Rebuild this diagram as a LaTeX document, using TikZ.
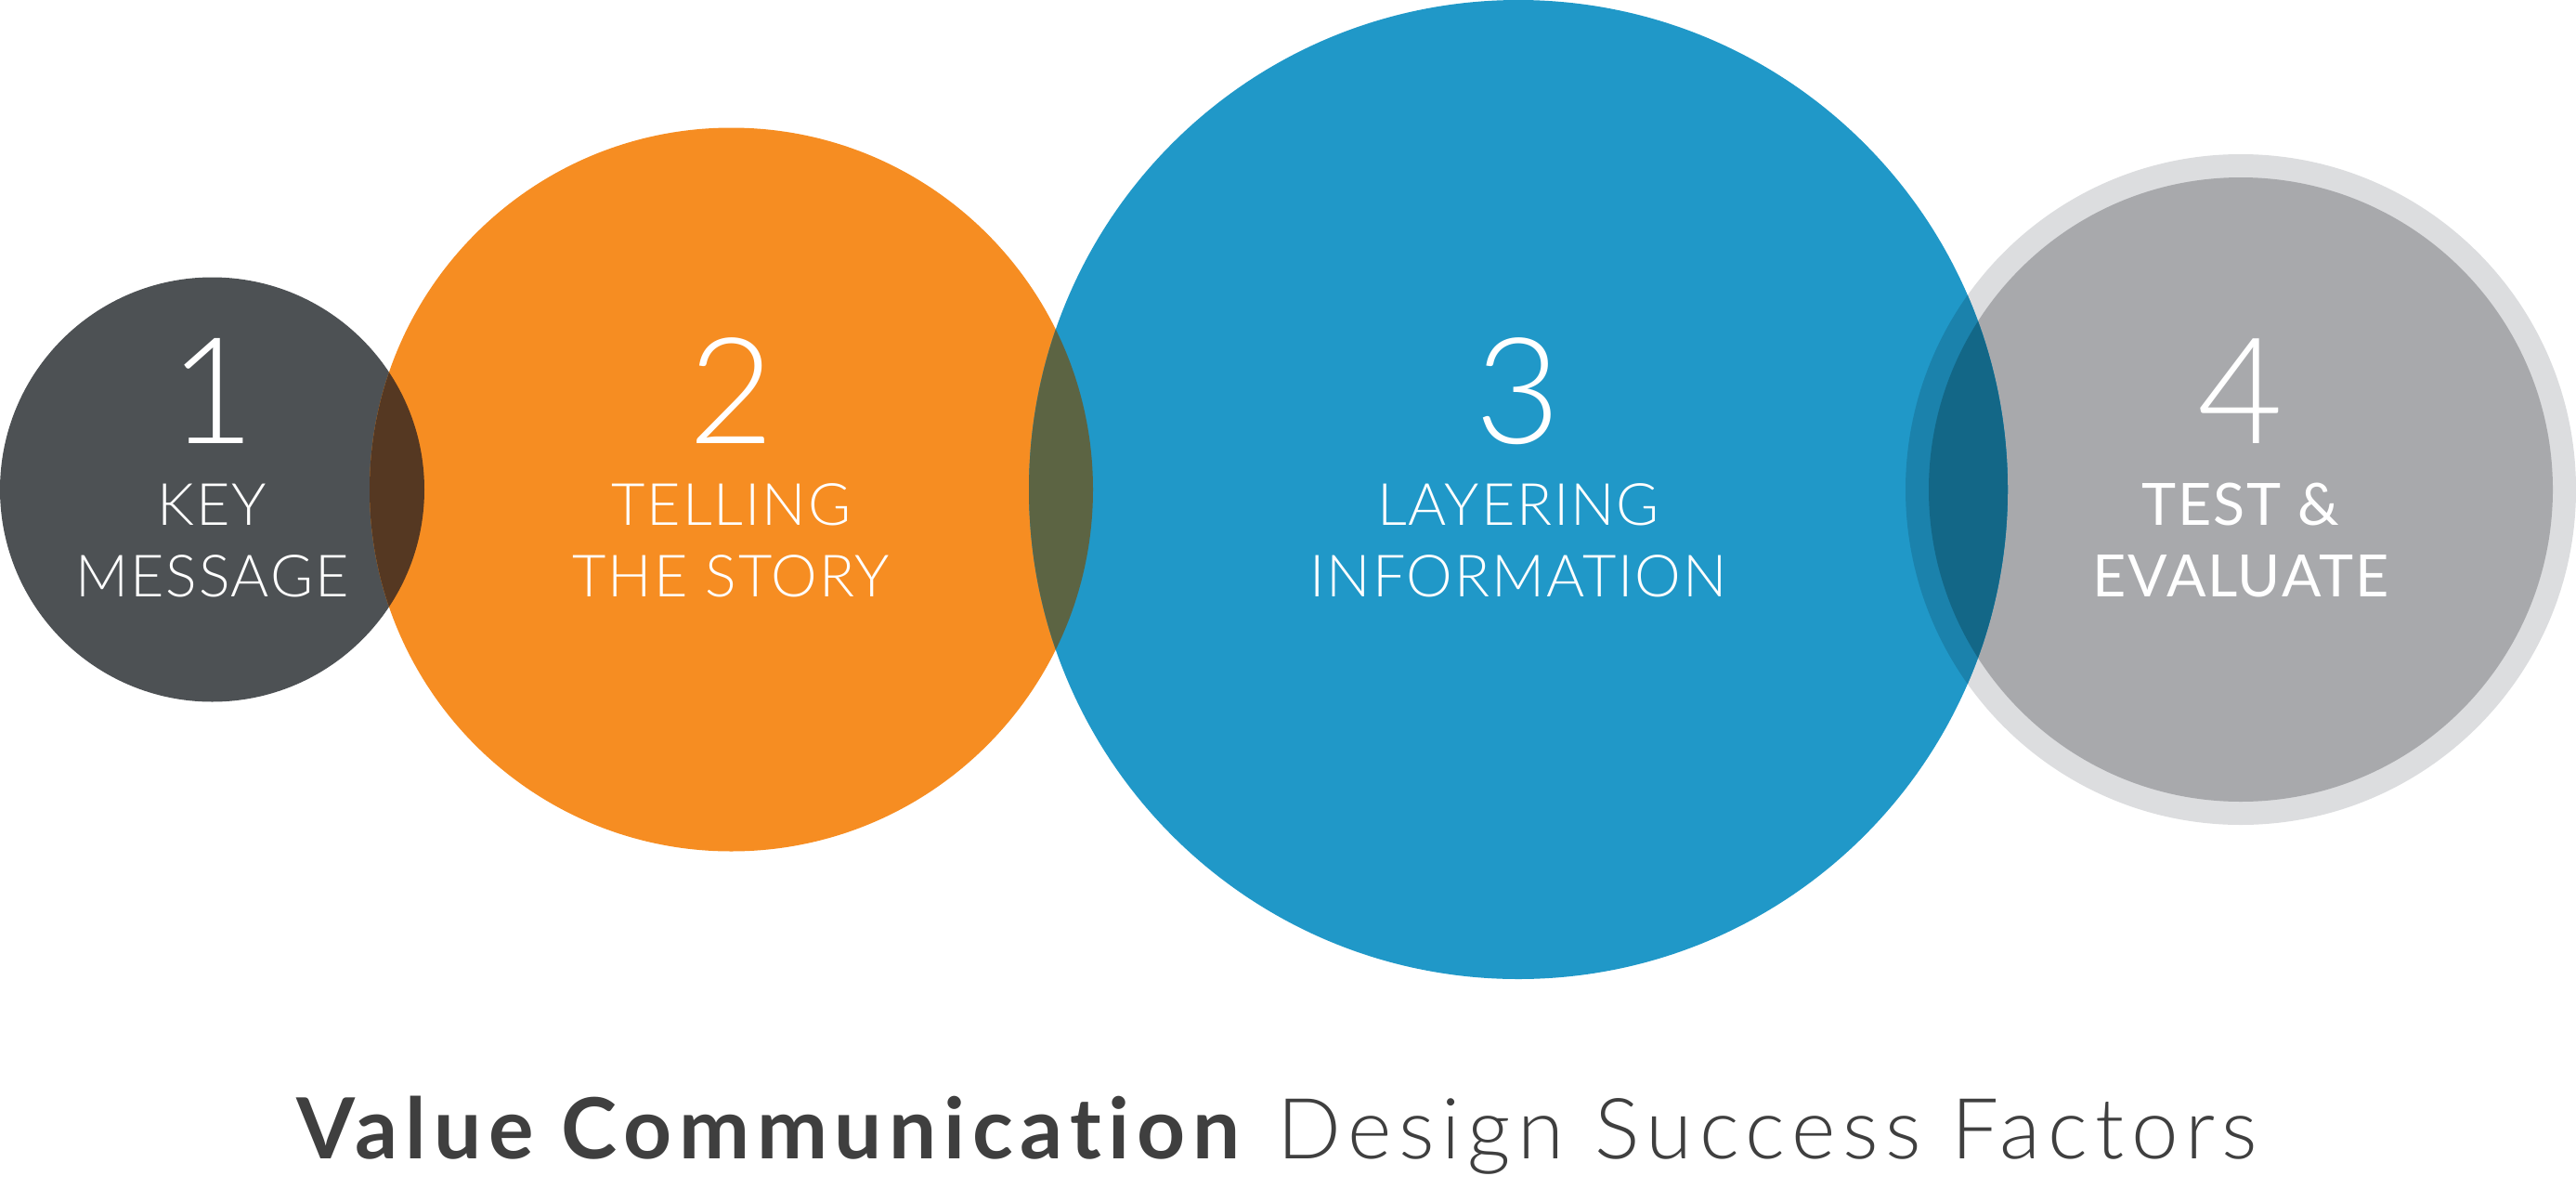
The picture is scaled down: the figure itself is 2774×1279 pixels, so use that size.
\documentclass[tikz,border=0pt]{standalone}
\usepackage{fontspec}
\setmainfont{Lato}[UprightFont={* Light},BoldFont={* Bold},Ligatures={NoCommon,NoRare}]
\newfontfamily\mediumfont{Lato}[LetterSpace=3]
\usetikzlibrary{positioning}
\definecolor{keygray}{HTML}{4D5154}
\definecolor{storyorange}{HTML}{F68D22}
\definecolor{layerblue}{HTML}{2098C8}
\definecolor{testgray}{HTML}{A8A9AC}
\definecolor{ringgray}{HTML}{DCDDDF}
\definecolor{overlapkey}{HTML}{553822}
\definecolor{overlapstory}{HTML}{5C6443}
\definecolor{overlapring}{HTML}{1B82AC}
\definecolor{overlaptest}{HTML}{136787}
\definecolor{titlegray}{HTML}{3F3F3F}

\begin{document}
\begin{tikzpicture}[x=0.25pt,y=0.25pt,
  digit/.style={anchor=base,text=white,inner sep=0pt,font=\fontsize{39.8}{40}\selectfont},
  caption/.style={anchor=base,text=white,inner sep=0pt,font=\fontsize{15.7}{16}\selectfont\addfontfeature{LetterSpace=3}}]
\useasboundingbox (0,0) rectangle (2774,1279);
%%First place the centres
\coordinate (c1) at (228.5,752);
\coordinate (c2) at (787.5,752);
\coordinate (c3) at (1635,752);
\coordinate (c4) at (2413,752);
%%Draw the discs
\fill[ringgray] (c4) circle (361);
\fill[testgray] (c4) circle (336);
\fill[keygray] (c1) circle (228.5);
\fill[storyorange] (c2) circle (389.5);
\fill[layerblue] (c3) circle (527);
%%Draw the overlaps
\begin{scope}
\clip (c1) circle (228.5);
\fill[overlapkey] (c2) circle (389.5);
\end{scope}
\begin{scope}
\clip (c2) circle (389.5);
\fill[overlapstory] (c3) circle (527);
\end{scope}
\begin{scope}
\clip (c3) circle (527);
\fill[overlapring] (c4) circle (361);
\fill[overlaptest] (c4) circle (336);
\end{scope}
%%Place the numbers
\node[digit] (n1) at ([yshift=12.5pt]c1) {1};
\node[digit] (n2) at ([yshift=12.5pt]c2) {2};
\node[digit] (n3) at ([yshift=12.5pt]c3) {3};
\node[digit] (n4) at ([yshift=12.5pt]c4) {4};
%%Place the captions
\node[caption] (k1) at ([yshift=-9.5pt]c1) {KEY};
\node[caption] (m1) at ([yshift=-28.75pt]c1) {MESSAGE};
\node[caption] (k2) at ([yshift=-9.5pt]c2) {TELLING};
\node[caption] (m2) at ([yshift=-28.75pt]c2) {THE STORY};
\node[caption] (k3) at ([yshift=-9.5pt]c3) {LAYERING};
\node[caption] (m3) at ([yshift=-28.75pt]c3) {INFORMATION};
\node[caption,font=\fontsize{15.7}{16}\mediumfont] (k4) at ([yshift=-9.5pt]c4) {TEST \&};
\node[caption,font=\fontsize{15.7}{16}\mediumfont] (m4) at ([yshift=-28.75pt]c4) {EVALUATE};
%%Place the title
\node[anchor=base,inner sep=0pt,text=titlegray,font=\fontsize{22.7}{24}\selectfont\addfontfeature{LetterSpace=8.5}] (title) at (1375,32)
  {\textbf{\addfontfeature{LetterSpace=8.5}Value Communication} Design Success Factors};
\end{tikzpicture}
\end{document}
